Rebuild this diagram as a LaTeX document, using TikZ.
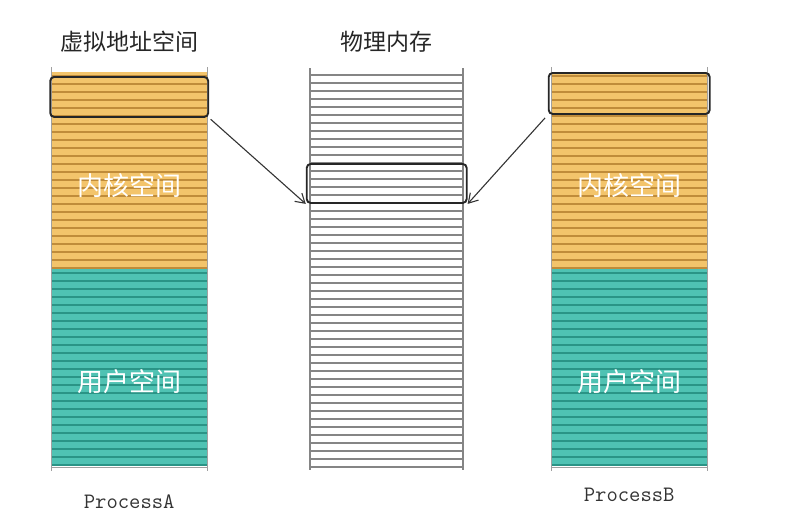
\documentclass[tikz,border=0pt]{standalone}
\usepackage{fontspec}
\newfontfamily\cjk{Noto Sans CJK SC}
\usetikzlibrary{arrows.meta,positioning}
\definecolor{kernfill}{HTML}{F3C46B}
\definecolor{kernline}{HTML}{C08C3A}
\definecolor{userfill}{HTML}{4FC2B3}
\definecolor{userline}{HTML}{2A9486}
\definecolor{memline}{HTML}{858585}
\definecolor{tickgray}{HTML}{A0A0A0}
\tikzset{
    %Define standard arrow tip
    >={Straight Barb[length=9pt,width=11pt]},
    %Define striped block, argument is the stripe colour
    striped/.style={
           rectangle,
           inner sep=0pt,
           path picture={
             \foreach \k in {0,...,60}
               \draw[#1,line width=1.9pt]
                 ([yshift=-4pt-\k*8pt]path picture bounding box.north west) --
                 ([yshift=-4pt-\k*8pt]path picture bounding box.north east);
           }},
    % Define style for kernel and user space
    kernel/.style={
           striped=kernline,
           fill=kernfill,
           minimum width=156pt,
           minimum height=196pt},
    user/.style={
           striped=userline,
           fill=userfill,
           minimum width=156pt,
           minimum height=197pt},
    memory/.style={
           striped=memline,
           minimum width=153pt,
           minimum height=398pt},
    blocktext/.style={
           text=white,
           inner sep=0pt,
           font=\cjk\fontsize{26}{30}\selectfont},
    % Define style for the marked pages
    hilite/.style={
           rectangle,
           rounded corners=4pt,
           draw=black!85,
           line width=1.9pt,
           inner sep=0pt},
    title/.style={
           inner sep=0pt,
           text=black!85,
           font=\cjk\fontsize{23}{27}\selectfont},
    pname/.style={
           inner sep=0pt,
           text=black!80,
           font=\ttfamily\fontsize{22}{26}\selectfont},
    % Define arrow style
    pil/.style={
           ->,
           line width=1.1pt,
           black!80},
    tick/.style={tickgray, line width=0.9pt},
    memside/.style={memline, line width=1.9pt}
}
\begin{document}
\begin{tikzpicture}[x=1pt,y=-1pt]
  \useasboundingbox (0,0) rectangle (785,515);
  % process A
  \node[kernel,anchor=north west,label={[blocktext,yshift=-15pt]center:内核空间}] (kernA) at (51,72) {};
  \node[user,below=0pt of kernA,label={[blocktext,yshift=-15pt]center:用户空间}] (userA) {};
  \draw[tick] ([yshift=5pt]kernA.north west) -- ([yshift=-5pt]userA.south west)
              ([yshift=5pt]kernA.north east) -- ([yshift=-5pt]userA.south east)
              ([yshift=-2pt]userA.south west) -- ([yshift=-2pt]userA.south east);
  \node[hilite,minimum width=158pt,minimum height=40pt,anchor=north] (hlA) at ([yshift=-4pt]kernA.north) {};
  \node[title,above=19pt of kernA] (vaTitle) {虚拟地址空间};
  \node[pname,below=29pt of userA] (procA) {ProcessA};
  % physical memory
  \node[memory,anchor=north west] (mem) at (310,71) {};
  \draw[memside] ([yshift=3pt]mem.north west) -- ([yshift=-1pt]mem.south west)
                 ([yshift=3pt]mem.north east) -- ([yshift=-1pt]mem.south east);
  \node[hilite,minimum width=160pt,minimum height=39pt,anchor=north] (hlM) at ([yshift=-92pt]mem.north) {};
  \node[title,above=18pt of mem] (pmTitle) {物理内存};
  % process B
  \node[kernel,anchor=north west,label={[blocktext,yshift=-15pt]center:内核空间}] (kernB) at (551,72) {};
  \node[user,below=0pt of kernB,label={[blocktext,yshift=-15pt]center:用户空间}] (userB) {};
  \draw[tick] ([yshift=5pt]kernB.north west) -- ([yshift=-5pt]userB.south west)
              ([yshift=5pt]kernB.north east) -- ([yshift=-5pt]userB.south east)
              ([yshift=-2pt]userB.south west) -- ([yshift=-2pt]userB.south east);
  \node[hilite,minimum width=161pt,minimum height=41pt,anchor=north] (hlB) at (kernB.north) {};
  \node[pname,below=22pt of userB] (procB) {ProcessB};
  % mapping of the kernel pages
  \draw[pil,shorten <=2pt] (hlA.south east) -- (hlM.south west);
  \draw[pil,shorten <=4pt] (hlB.south west) -- (hlM.south east);
\end{tikzpicture}
\end{document}
